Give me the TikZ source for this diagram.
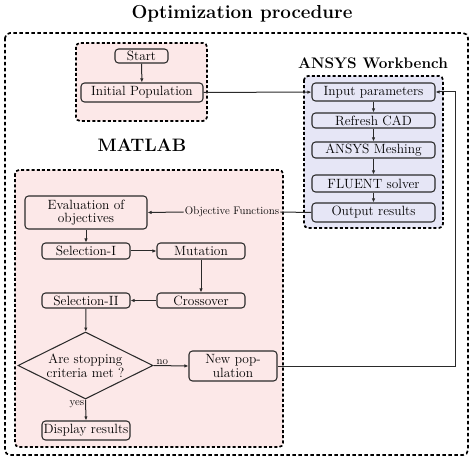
\documentclass[tikz,border=0pt]{standalone}
\usetikzlibrary{arrows.meta,shapes.geometric}
\definecolor{pinkbg}{HTML}{FCE8E8}
\definecolor{bluebg}{HTML}{E6E6F6}
\definecolor{edge}{HTML}{2A2A2A}
\tikzset{
  nodebox/.style={draw=edge, line width=1.05pt, rounded corners=3.5pt, inner sep=0pt, align=center,
    font=\fontsize{13.4}{13.6}\selectfont},
  pinkbox/.style={nodebox, fill=pinkbg},
  bluebox/.style={nodebox, fill=bluebg},
  container/.style={draw=black, line width=1.7pt, dash pattern=on 3pt off 2.2pt, rounded corners=4pt},
  outerbox/.style={draw=black, line width=1.7pt, dash pattern=on 3.5pt off 2.5pt, rounded corners=5pt},
  conn/.style={draw=edge, line width=1pt, -{Latex[length=4pt,width=3.4pt]}},
  plainline/.style={draw=edge, line width=1pt},
  smalltxt/.style={font=\fontsize{11}{11.5}\selectfont, inner sep=1pt}
}
\begin{document}
\begin{tikzpicture}[x=1pt,y=-1pt]
\useasboundingbox (0,0) rectangle (474,462);
% containers
\draw[outerbox] (5,33) rectangle (468,455);
\draw[container, fill=pinkbg] (76,43) rectangle (207,121);
\draw[container, fill=pinkbg] (15,170) rectangle (283,447);
\draw[container, fill=bluebg] (304,76) rectangle (443,228);
% headings
\node[font=\bfseries\fontsize{18.8}{20}\selectfont] (title) at (242,14) {Optimization procedure};
\node[font=\bfseries\fontsize{18}{19}\selectfont] (matlab) at (142,145) {MATLAB};
\node[font=\bfseries\fontsize{15.3}{16}\selectfont] (ansys) at (373,63) {ANSYS Workbench};
% top MATLAB
\node[pinkbox, minimum width=53pt, minimum height=14pt] (start) at (141.5,56) {Start};
\node[pinkbox, minimum width=122pt, minimum height=19pt] (init) at (142,92.5) {Initial Population};
% ANSYS
\node[bluebox, minimum width=123pt, minimum height=18pt] (inp) at (373.5,92) {Input parameters};
\node[bluebox, minimum width=123pt, minimum height=15pt] (cad) at (373.5,120.5) {Refresh CAD};
\node[bluebox, minimum width=123pt, minimum height=16pt] (mesh) at (373.5,150) {ANSYS Meshing};
\node[bluebox, minimum width=123pt, minimum height=17pt] (fluent) at (373.5,183.5) {FLUENT solver};
\node[bluebox, minimum width=123pt, minimum height=19pt] (out) at (373.5,212.5) {Output results};
% bottom MATLAB
\node[pinkbox, minimum width=122pt, minimum height=33pt] (eval) at (86,212.5) {Evaluation of\\objectives};
\node[pinkbox, minimum width=88pt, minimum height=16pt] (sel1) at (86,251) {Selection-I};
\node[pinkbox, minimum width=88pt, minimum height=16pt] (mut) at (201,251) {Mutation};
\node[pinkbox, minimum width=88pt, minimum height=15pt] (cross) at (201,300.5) {Crossover};
\node[pinkbox, minimum width=88pt, minimum height=15pt] (sel2) at (86,300.5) {Selection-II};
\node[draw=edge, line width=1.05pt, fill=pinkbg, diamond, shape aspect=2, inner sep=0pt,
      minimum width=135pt, minimum height=67pt, align=center,
      font=\fontsize{13.4}{13.6}\selectfont] (dec) at (85.5,365.5) {Are stopping\\criteria met ?};
\node[pinkbox, minimum width=88pt, minimum height=30pt] (newpop) at (233,366) {New pop-\\ulation};
\node[pinkbox, minimum width=88pt, minimum height=19pt] (disp) at (86,430.5) {Display results};
\node[smalltxt] (objf) at (232,212) {Objective Functions};
% connectors
\draw[conn] (start) -- (init);
\draw[conn] (init) -- (inp);
\draw[conn] (inp) -- (cad);
\draw[conn] (cad) -- (mesh);
\draw[conn] (mesh) -- (fluent);
\draw[conn] (fluent) -- (out);
\draw[plainline] (out.west) -- (objf.east);
\draw[conn] (objf.west) -- (eval.east);
\draw[conn] (eval) -- (sel1);
\draw[conn] (sel1) -- (mut);
\draw[conn] (mut) -- (cross);
\draw[conn] (cross) -- (sel2);
\draw[conn] (sel2) -- (dec);
\draw[conn] (dec.east) -- node[smalltxt, above, pos=0.25] (nolab) {no} (newpop.west);
\draw[conn] (dec.south) -- node[smalltxt, left, pos=0.2] (yeslab) {yes} (disp.north);
\coordinate (rt) at (455,366);
\draw[conn] (newpop.east) -- (rt) |- (inp.east);
\end{tikzpicture}
\end{document}
